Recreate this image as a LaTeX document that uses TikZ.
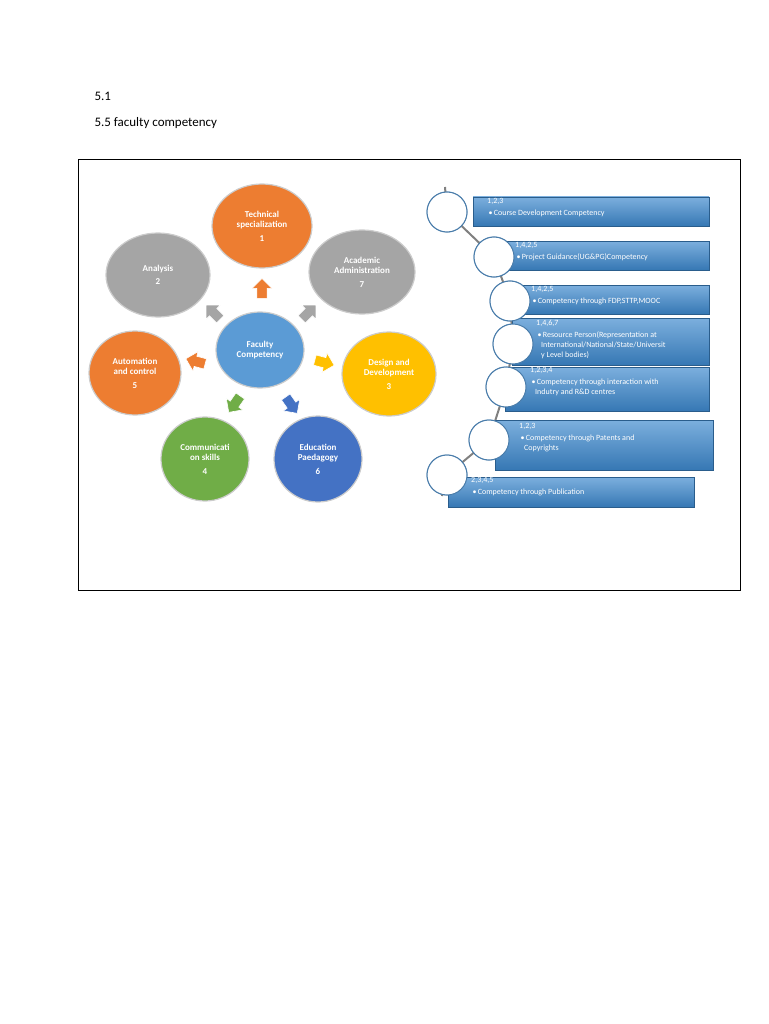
\documentclass[tikz,border=0pt]{standalone}
\usepackage{fontspec}
\setmainfont{Carlito}
\usetikzlibrary{shapes.arrows}
\definecolor{org}{HTML}{ED7D31}
\definecolor{gry}{HTML}{A5A5A5}
\definecolor{yel}{HTML}{FFC000}
\definecolor{grn}{HTML}{70AD47}
\definecolor{dbl}{HTML}{4472C4}
\definecolor{lbl}{HTML}{5B9BD5}
\definecolor{bar}{HTML}{3C85C8}
\tikzset{
 bub/.style={ellipse, draw=white!80!black, line width=1.2pt, inner sep=0pt, font=\bfseries\fontsize{9}{10.5}\selectfont, text=white, align=center},
 blk/.style={single arrow, minimum height=20pt, minimum width=20pt, single arrow head extend=3pt, inner sep=3pt, draw=white, line width=0.6pt},
 barbox/.style={draw=bar!70!black, top color=lbl!80!white, bottom color=bar!90!black, line width=0.6pt},
 ring/.style={circle, draw=lbl!80!black, fill=white, line width=1pt, minimum size=40pt, inner sep=0pt},
 btxt/.style={anchor=north west, text=white, font=\fontsize{8}{10}\selectfont, align=left, inner sep=0pt},
}
\usetikzlibrary{shapes.geometric}
\begin{document}
\begin{tikzpicture}[x=1pt,y=-1pt]
\useasboundingbox (0,0) rectangle (768,1024);
\node[anchor=west, font=\fontsize{13}{15}\selectfont] (t1) at (91,96) {5.1};
\node[anchor=west, font=\fontsize{13}{15}\selectfont] (t2) at (91,123) {5.5 faculty competency};
\draw[line width=0.8pt] (78,159) rectangle (740,590);
% bubbles
\node[bub, fill=org, minimum width=100pt, minimum height=84pt] (tech) at (262,226) {Technical\\specialization\\[3pt]1};
\node[bub, fill=gry, minimum width=104pt, minimum height=84pt] (ana) at (158,275) {Analysis\\[3pt]2};
\node[bub, fill=gry, minimum width=106pt, minimum height=84pt] (aca) at (362,272) {Academic\\Administration\\[3pt]7};
\node[bub, fill=lbl, minimum width=88pt, minimum height=76pt] (fac) at (260,350) {Faculty\\Competency};
\node[bub, fill=org, minimum width=92pt, minimum height=84pt] (aut) at (135,373) {Automation\\and control\\[3pt]5};
\node[bub, fill=yel, minimum width=94pt, minimum height=84pt] (des) at (389,374) {Design and\\Development\\[3pt]3};
\node[bub, fill=grn, minimum width=88pt, minimum height=84pt] (com) at (205,459) {Communicati\\on skills\\[3pt]4};
\node[bub, fill=dbl, minimum width=88pt, minimum height=86pt] (edu) at (318,459) {Education\\Paedagogy\\[3pt]6};
% arrows (y axis flipped: rotate angles negated)
\node[blk, fill=org, rotate=90] (a1) at (262,291) {};
\node[blk, fill=gry, rotate=135] (a2) at (215,314) {};
\node[blk, fill=gry, rotate=45] (a3) at (307,314) {};
\node[blk, fill=org, rotate=165] (a4) at (198,362) {};
\node[blk, fill=yel, rotate=-15] (a5) at (322,362) {};
\node[blk, fill=grn, rotate=-125] (a6) at (236,402) {};
\node[blk, fill=dbl, rotate=-55] (a7) at (290,403) {};
% right list
\coordinate (top) at (445,187);
\coordinate (bot) at (442,496);
\node[ring] (c1) at (447,212) {};
\node[ring] (c2) at (494,257) {};
\node[ring] (c3) at (510,301) {};
\node[ring] (c4) at (513,344) {};
\node[ring] (c5) at (506,387) {};
\node[ring] (c6) at (489,440) {};
\node[ring] (c7) at (447,475) {};
\draw[gray, line width=2pt] (top) -- (c1.center) -- (c2.center) -- (c3.center) -- (c4.center) -- (c5.center) -- (c6.center) -- (c7.center) -- (bot);
\draw[barbox] (473,197) rectangle (709,226);
\draw[barbox] (500,241) rectangle (709,270);
\draw[barbox] (516,285) rectangle (709,314);
\draw[barbox] (512,318) rectangle (709,365);
\draw[barbox] (505,367) rectangle (709,411);
\draw[barbox] (495,420) rectangle (713,470);
\draw[barbox] (448,477) rectangle (694,507);
\foreach \c/\p in {c1/447/212,c2/494/257,c3/510/301,c4/513/344,c5/506/387,c6/489,c7/447}{}
\node[ring] at (447,212) {};
\node[ring] at (494,257) {};
\node[ring] at (510,301) {};
\node[ring] at (513,344) {};
\node[ring] at (506,387) {};
\node[ring] at (489,440) {};
\node[ring] at (447,475) {};
\node[btxt] (l1) at (487,198) {1,2,3\\[2pt]\,\textbullet\,Course Development Competency};
\node[btxt] (l2) at (515,242) {1,4,2,5\\[2pt]\,\textbullet\,Project Guidance(UG\&PG)Competency};
\node[btxt] (l3) at (531,286) {1,4,2,5\\[2pt]\,\textbullet\,Competency through FDP,STTP,MOOC};
\node[btxt] (l4) at (536,320) {1,4,6,7\\[2pt]\,\textbullet\,Resource Person(Representation at\\\hspace*{5pt}International/National/State/Universit\\\hspace*{5pt}y Level bodies)};
\node[btxt] (l5) at (530,367) {1,2,3,4\\[2pt]\,\textbullet\,Competency through interaction with\\\hspace*{5pt}Indutry and R\&D centres};
\node[btxt] (l6) at (519,423) {1,2,3\\[2pt]\,\textbullet\,Competency through Patents and\\\hspace*{5pt}Copyrights};
\node[btxt] (l7) at (471,477) {2,3,4,5\\[2pt]\,\textbullet\,Competency through Publication};
\end{tikzpicture}
\end{document}
